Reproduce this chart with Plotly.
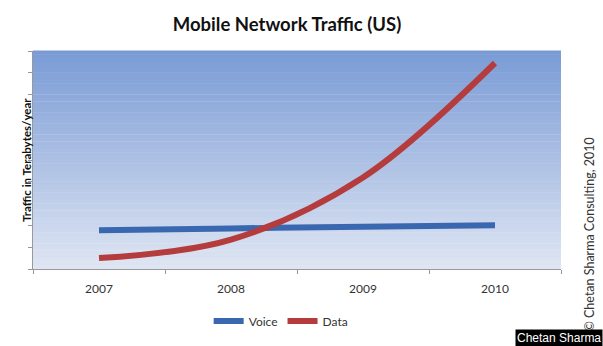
import plotly.graph_objects as go

years = ["2007", "2008", "2009", "2010"]
voice = [1.78, 1.86, 1.94, 2.01]
data = [0.5, 1.35, 4.2, 9.45]

fig = go.Figure()
fig.add_trace(go.Scatter(x=years, y=voice, name="Voice", mode="lines",
                         line=dict(color="#3A68B0", width=6, shape="spline")))
fig.add_trace(go.Scatter(x=years, y=data, name="Data", mode="lines",
                         line=dict(color="#B53C3C", width=6, shape="spline")))

# vertical gradient background made of thin bands
top = (122, 155, 213)
bot = (222, 229, 243)
n = 60
for i in range(n):
    t = i / (n - 1)
    c = tuple(round(top[k] + (bot[k] - top[k]) * t) for k in range(3))
    fig.add_shape(type="rect", xref="x domain", yref="y domain",
                  x0=0, x1=1, y0=1 - (i + 1) / n, y1=1 - i / n + 0.002,
                  fillcolor="rgb(%d,%d,%d)" % c, line=dict(width=0), layer="below")

fig.update_layout(
    width=603, height=346,
    margin=dict(l=33, r=42, t=51, b=76),
    paper_bgcolor="white", plot_bgcolor="white",
    title=dict(text="<b>Mobile Network Traffic (US)</b>", x=0.476, xanchor="center",
               y=0.928, yanchor="middle",
               font=dict(family="Lato, Open Sans, sans-serif", size=18.5, color="#111")),
    font=dict(family="Lato, Open Sans, sans-serif", color="#333"),
    showlegend=True,
    legend=dict(orientation="h", x=0.47, xanchor="center", y=-0.233, yanchor="middle",
                font=dict(size=12, color="#333"), bgcolor="rgba(0,0,0,0)",
                itemwidth=30, tracegroupgap=0),
    xaxis=dict(type="category", range=[-0.5, 3.5], showgrid=False,
               showline=True, linecolor="#999", linewidth=1,
               ticks="outside", ticklen=4, tickcolor="#999", tickson="boundaries",
               ticklabelstandoff=9,
               tickfont=dict(size=12, color="#333"), zeroline=False),
    yaxis=dict(range=[0, 10], dtick=1, showgrid=False, showticklabels=False,
               showline=True, linecolor="#999", linewidth=1,
               ticks="outside", ticklen=4, tickcolor="#999", zeroline=False),
)

fig.add_annotation(text="<b>Traffic in Terabytes/year</b>", xref="paper", yref="paper",
                   x=-0.0133, y=0.5, xanchor="center", yanchor="middle", textangle=-90,
                   showarrow=False, font=dict(size=11.5, color="#111"))
fig.add_annotation(text="© Chetan Sharma Consulting, 2010", xref="paper", yref="paper",
                   x=1.055, y=0.158, xanchor="center", yanchor="middle", textangle=-90,
                   showarrow=False, font=dict(size=12.5, color="#333"))
fig.add_annotation(text="Chetan Sharma", xref="paper", yref="paper",
                   x=1.08, y=-0.36, xanchor="right", yanchor="bottom",
                   showarrow=False, bgcolor="black", borderpad=1,
                   font=dict(family="Liberation Sans, Arial", size=12, color="white"))

fig.write_html("out.html")
